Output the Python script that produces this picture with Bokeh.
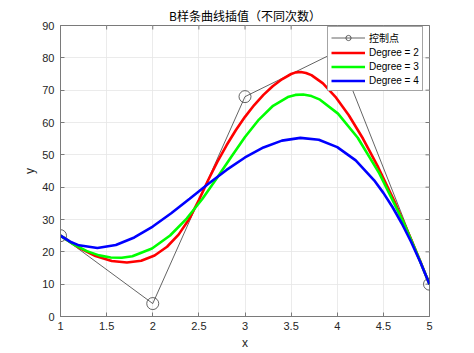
import math
from bokeh.plotting import figure
from bokeh.models import Range1d, FixedTicker, Legend, LegendItem
from bokeh.embed import file_html
from bokeh.resources import INLINE

# ---- data ----
ctrl_x = [1, 2, 3, 4, 5]
ctrl_y = [25, 4, 68, 82, 10]

deg2_x = [1, 1.195, 1.38, 1.555, 1.72, 1.875, 2.02, 2.155, 2.28, 2.395, 2.5,
          2.6, 2.7, 2.8, 2.9, 3.0, 3.1, 3.2, 3.3, 3.4, 3.5,
          3.551, 3.605, 3.661, 3.72, 3.845, 3.98, 4.125, 4.28, 4.445, 4.62, 4.805, 4.901, 5]
deg2_y = [25, 21.33, 18.72, 17.17, 16.68, 17.25, 18.88, 21.57, 25.32, 30.13, 36,
          42.15, 47.8, 52.95, 57.6, 61.75, 65.4, 68.55, 71.2, 73.35, 75,
          75.5, 75.61, 75.32, 74.64, 72.09, 67.96, 62.25, 54.96, 46.09, 35.64, 23.61, 17.0, 10]

deg3_x = [1, 1.146, 1.286, 1.418, 1.544, 1.664, 1.779, 1.992, 2.188, 2.368, 2.537, 2.696, 2.850, 3.0,
          3.151, 3.304, 3.464, 3.546, 3.632, 3.721, 3.813, 4.008, 4.222, 4.456, 4.715, 4.854, 5]
deg3_y = [25, 22.24, 20.22, 18.91, 18.24, 18.16, 18.64, 21.05, 25.06, 30.29, 36.34, 42.82, 49.34, 55.5,
          60.91, 65.17, 67.88, 68.53, 68.64, 68.17, 67.06, 62.74, 55.27, 44.25, 29.30, 20.21, 10]

deg4_x = [1, 1.1, 1.2, 1.4, 1.6, 1.8, 2.0, 2.2, 2.4, 2.6, 2.8, 3.0, 3.2, 3.4, 3.6, 3.8,
          4.0, 4.2, 4.4, 4.5, 4.6, 4.7, 4.8, 4.9, 5]
deg4_y = [25, 23.21, 22.01, 21.17, 22.10, 24.44, 27.82, 31.92, 36.41, 40.97, 45.33, 49.19, 52.29,
          54.39, 55.25, 54.65, 52.39, 48.27, 42.13, 38.24, 33.79, 28.76, 23.13, 16.88, 10]

x_ticks = [1, 1.5, 2, 2.5, 3, 3.5, 4, 4.5, 5]
x_tick_labels = ["1", "1.5", "2", "2.5", "3", "3.5", "4", "4.5", "5"]
y_ticks = [0, 10, 20, 30, 40, 50, 60, 70, 80, 90]
y_tick_labels = ["0", "10", "20", "30", "40", "50", "60", "70", "80", "90"]
x_min, x_max = 1, 5
y_min, y_max = 0, 90

title_text = "B样条曲线插值（不同次数）"
legend_labels = ["控制点", "Degree = 2", "Degree = 3", "Degree = 4"]

# ---- figure ----
AX = "#7a7a7a"
TXT = "#262626"
FONT = "Liberation Sans, Noto Sans CJK SC"

p = figure(width=474, height=353, x_range=Range1d(x_min, x_max), y_range=Range1d(y_min, y_max),
           output_backend="svg", toolbar_location=None,
           min_border_left=60, min_border_right=45, min_border_top=25, min_border_bottom=37)

p.title.text = title_text
p.title.align = "center"
p.title.text_font = "Noto Sans CJK SC"
p.title.text_font_size = "12px"
p.title.text_font_style = "normal"
p.title.text_color = "#000000"
p.title.standoff = 3

p.outline_line_color = AX
p.outline_line_width = 1

for ax, ticks, labels in [(p.xaxis[0], x_ticks, x_tick_labels), (p.yaxis[0], y_ticks, y_tick_labels)]:
    ax.ticker = FixedTicker(ticks=ticks)
    ax.major_label_overrides = {t: l for t, l in zip(ticks, labels)}
    ax.major_tick_in = 4
    ax.major_tick_out = 0
    ax.minor_tick_line_color = None
    ax.axis_line_color = AX
    ax.axis_line_width = 1
    ax.major_tick_line_color = AX
    ax.major_label_text_font = FONT
    ax.major_label_text_font_size = "11px"
    ax.major_label_text_color = TXT
    ax.axis_label_text_font = FONT
    ax.axis_label_text_font_size = "12px"
    ax.axis_label_text_font_style = "normal"
    ax.axis_label_text_color = TXT

p.xaxis.axis_label = "x"
p.yaxis.axis_label = "y"
p.xaxis.major_label_standoff = 5
p.xaxis.axis_label_standoff = 3
p.yaxis.major_label_standoff = 6
p.yaxis.axis_label_standoff = 2

p.xgrid.ticker = FixedTicker(ticks=x_ticks)
p.ygrid.ticker = FixedTicker(ticks=y_ticks)
p.grid.grid_line_color = "#e6e6e6"
p.grid.grid_line_width = 0.8

# tick marks on the top and right edges of the box (clipped to the frame)
p.scatter(x_ticks, [y_max] * len(x_ticks), marker="dash", angle=math.pi / 2, size=8,
          line_color=AX, line_width=1)
p.scatter([x_max] * len(y_ticks), y_ticks, marker="dash", size=8,
          line_color=AX, line_width=1)

# ---- data glyphs ----
r_poly = p.line(ctrl_x, ctrl_y, line_color="#3c3c3c", line_width=0.8)
r_pts = p.scatter(ctrl_x, ctrl_y, marker="circle", size=12, fill_color=None,
                  line_color="#3c3c3c", line_width=0.8)
r2 = p.line(deg2_x, deg2_y, line_color="#ff0000", line_width=2.6)
r3 = p.line(deg3_x, deg3_y, line_color="#00ff00", line_width=2.6)
r4 = p.line(deg4_x, deg4_y, line_color="#0000ff", line_width=2.6)

legend = Legend(items=[
    LegendItem(label=legend_labels[0], renderers=[r_poly, r_pts]),
    LegendItem(label=legend_labels[1], renderers=[r2]),
    LegendItem(label=legend_labels[2], renderers=[r3]),
    LegendItem(label=legend_labels[3], renderers=[r4]),
], location=(267, 225))
legend.border_line_color = "#4a4a4a"
legend.border_line_width = 0.8
legend.background_fill_color = "white"
legend.background_fill_alpha = 1
legend.label_text_font = FONT
legend.label_text_font_size = "10px"
legend.label_text_color = "#000000"
legend.label_height = 13
legend.glyph_height = 13
legend.glyph_width = 34
legend.label_standoff = 4
legend.padding = 3
legend.spacing = 1
legend.margin = 0
p.add_layout(legend)

open("out.html", "w").write(file_html(p, INLINE))
